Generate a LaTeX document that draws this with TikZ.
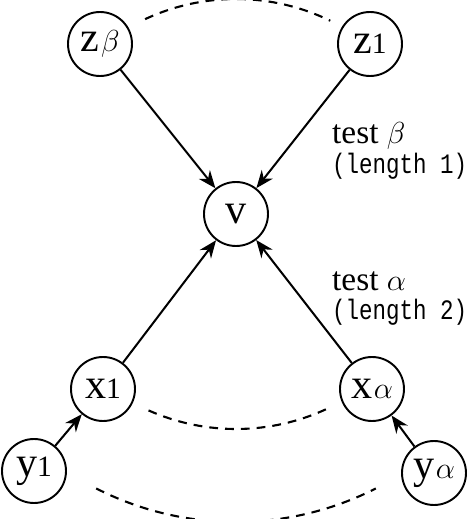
\documentclass[tikz,border=0pt]{standalone}
\usepackage{fontspec}
\setmainfont{Liberation Serif}
\newfontfamily\lenfont[FakeStretch=0.8]{Liberation Mono}
\usetikzlibrary{arrows.meta}
\begin{document}
\begin{tikzpicture}[>={Stealth[length=10pt,width=8pt]},
	vertex/.style={draw,circle,line width=1.1pt,minimum size=1.28cm,inner sep=0pt,font=\fontsize{24}{28}\selectfont},
	link/.style={->,line width=1.15pt},
	gap/.style={line width=1.2pt,dash pattern=on 5pt off 4pt},
	note/.style={align=left,anchor=west,font=\fontsize{19}{22}\selectfont}]
	\useasboundingbox (0,0) rectangle (9.48,10.38);
	
	% csucsok
	\node[vertex] (v) at (4.72,6.10) {v};
	\node[vertex] (zb) at (2.00,9.50) {z\kern1pt$\scriptstyle\beta$};
	\node[vertex] (z1) at (7.40,9.50) {z$\scriptstyle\mathrm{1}$};
	\node[vertex] (x1) at (2.06,2.60) {x$\scriptstyle\mathrm{1}$};
	\node[vertex] (xa) at (7.44,2.60) {x\kern1pt$\scriptstyle\alpha$};
	\node[vertex] (y1) at (0.68,0.96) {y$\scriptstyle\mathrm{1}$};
	\node[vertex] (ya) at (8.68,0.92) {y\kern1pt$\scriptstyle\alpha$};
	
	% elek
	\draw [link] (zb) -- (v);
	\draw [link] (z1) -- (v);
	\draw [link] (x1) -- (v);
	\draw [link] (xa) -- (v);
	\draw [link] (y1) -- (x1);
	\draw [link] (ya) -- (xa);
	
	% szaggatott ivek
	\draw [gap] (v) ++(115:4.3) arc[start angle=115,end angle=64,radius=4.3];
	\draw [gap] (v) ++(246:4.3) arc[start angle=246,end angle=295,radius=4.3];
	\draw [gap] (v) ++(243:6.16) arc[start angle=243,end angle=297,radius=6.16];
	
	% feliratok
	\node[note] (tb) at (6.52,7.36) {test $\beta$\\[-5pt]{\lenfont\fontsize{16}{18}\selectfont (length 1)}};
	\node[note] (ta) at (6.52,4.41) {test $\alpha$\\[-5pt]{\lenfont\fontsize{16}{18}\selectfont (length 2)}};
\end{tikzpicture}
\end{document}
